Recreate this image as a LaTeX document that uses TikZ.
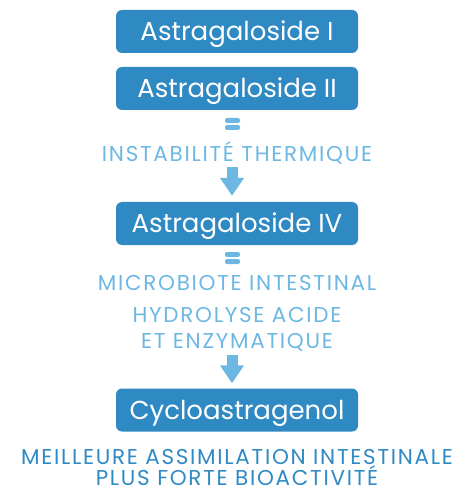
\documentclass[tikz,border=0pt]{standalone}
\usepackage{fontspec}
\setmainfont{Poppins}
\newfontfamily\stepfont{Poppins}[LetterSpace=8]
\usetikzlibrary{arrows.meta, positioning}
\definecolor{boxblue}{HTML}{2F8AC4}
\definecolor{stepblue}{HTML}{6DB8E3}

\begin{document}
\begin{tikzpicture}[
    x=1pt, y=1pt,
    mol/.style = {rectangle, rounded corners=6pt, minimum height=43pt, minimum width=242pt, fill=boxblue, text=white, text height=18.2pt, text depth=0pt, font=\fontsize{26}{30}\selectfont, inner sep=0pt},
    cond/.style = {anchor=base, text=stepblue, text depth=0pt, font=\stepfont\fontsize{21.5}{25}\selectfont, inner sep=0pt},
    gain/.style = {anchor=base, text=boxblue, text depth=0pt, font=\stepfont\fontsize{21.5}{25}\selectfont, inner sep=0pt},
    fatarrow/.style = {draw=stepblue, line width=11pt, -{Triangle[length=18pt, width=23pt]}},
    eqbar/.style = {fill=stepblue, rounded corners=2pt}
]
    \useasboundingbox (0,0) rectangle (474,-502);
    \node[mol] (ast1) at (237,-31.5) {Astragaloside I};
    \node[mol] (ast2) at (237,-88.5) {Astragaloside II};
    \node[cond] (instab) at (237,-162) {INSTABILITÉ THERMIQUE};
    \node[mol] (ast4) at (237,-223.5) {Astragaloside IV};
    \node[cond] (micro) at (237,-290) {MICROBIOTE INTESTINAL};
    \node[cond] (hydro) at (237,-322) {HYDROLYSE ACIDE};
    \node[cond] (enzym) at (237,-348) {ET ENZYMATIQUE};
    \node[mol] (cyclo) at (237,-410) {Cycloastragenol};
    \node[gain] (assim) at (237,-464) {MEILLEURE ASSIMILATION INTESTINALE};
    \node[gain] (bioact) at (237,-485.5) {PLUS FORTE BIOACTIVITÉ};
    % equals signs
    \foreach \y in {-118, -125, -252, -259}
        \fill[eqbar] (225,\y) rectangle (240,\y-5);
    \draw[fatarrow, shorten <=5pt, shorten >=6pt] ([xshift=-5pt]instab.south) -- ([xshift=-5pt]ast4.north);
    \draw[fatarrow, shorten <=7pt, shorten >=5pt] ([xshift=-5pt]enzym.south) -- ([xshift=-5pt]cyclo.north);
\end{tikzpicture}
\end{document}
